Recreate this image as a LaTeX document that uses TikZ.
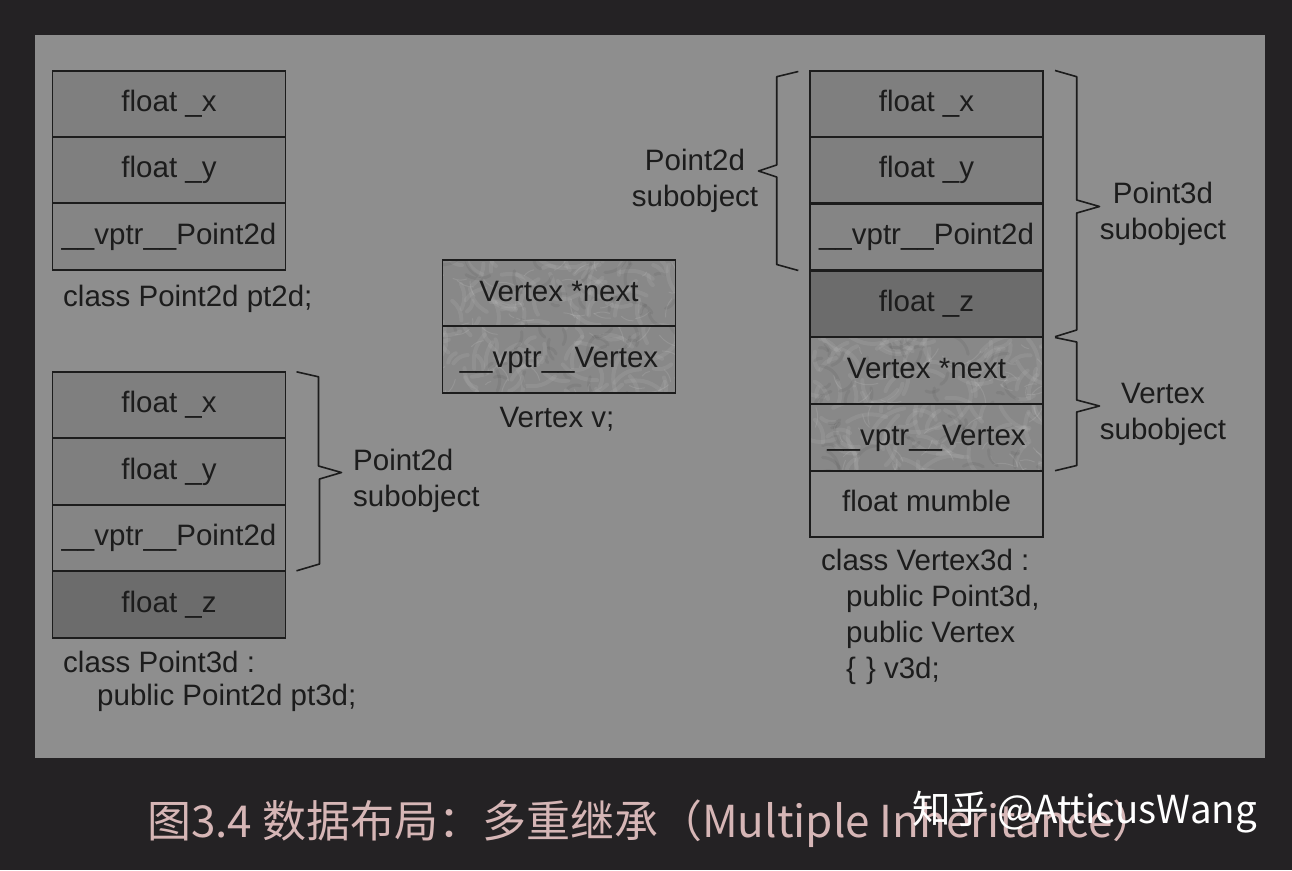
\documentclass[tikz,border=0pt]{standalone}
\usepackage{fontspec}
\setmainfont{Liberation Sans}
\newfontfamily\cjk{Noto Sans CJK SC}
\usetikzlibrary{calc}
\definecolor{bgdark}{RGB}{36,34,36}
\definecolor{panel}{RGB}{142,142,142}
\definecolor{cellA}{RGB}{127,127,127}
\definecolor{cellB}{RGB}{133,133,133}
\definecolor{cellZ}{RGB}{108,108,108}
\definecolor{cellM}{RGB}{141,141,141}
\definecolor{marble}{RGB}{136,136,136}
\definecolor{ink}{RGB}{28,28,28}
\definecolor{capink}{RGB}{214,182,182}
\begin{document}
\begin{tikzpicture}[x=1pt,y=-1pt,
  txt/.style={font=\fontsize{29.5}{35}\selectfont, text=ink, inner sep=0pt},
  cell/.style={txt, draw=ink, line width=1.8pt, minimum width=233pt, minimum height=66.5pt, text height=21pt, text depth=6pt},
  marblecell/.style={cell, fill=marble, path picture={
    \foreach \mk in {1,...,60}{
      \pgfmathsetmacro{\mkx}{rnd*240}
      \pgfmathsetmacro{\mky}{rnd*70}
      \pgfmathsetmacro{\mka}{rnd*360}
      \pgfmathsetmacro{\mkl}{10+rnd*30}
      \draw[white, opacity=0.07, line width=4pt, line cap=round]
        ([shift={(\mkx,\mky)}]path picture bounding box.north west) to[bend left=25] ++(\mka:\mkl);
    }
    \foreach \mk in {1,...,30}{
      \pgfmathsetmacro{\mkx}{rnd*240}
      \pgfmathsetmacro{\mky}{rnd*70}
      \pgfmathsetmacro{\mka}{rnd*360}
      \pgfmathsetmacro{\mkl}{6+rnd*18}
      \draw[white, opacity=0.1, line width=1pt, line cap=round]
        ([shift={(\mkx,\mky)}]path picture bounding box.north west) to[bend right=20] ++(\mka:\mkl);
    }
    \foreach \mk in {1,...,25}{
      \pgfmathsetmacro{\mkx}{rnd*240}
      \pgfmathsetmacro{\mky}{rnd*70}
      \pgfmathsetmacro{\mka}{rnd*360}
      \pgfmathsetmacro{\mkl}{6+rnd*18}
      \draw[black, opacity=0.06, line width=3pt, line cap=round]
        ([shift={(\mkx,\mky)}]path picture bounding box.north west) to[bend right=30] ++(\mka:\mkl);
    }}},
  bracepath/.style={draw=ink, line width=1.6pt, line join=round}
]
\pgfmathsetseed{11}
% background and panel
\fill[bgdark] (0,0) rectangle (1292,870);
\fill[panel] (35,35) rectangle (1265,758);
\useasboundingbox (0,0) rectangle (1292,870);

% ---- Point2d pt2d (top left)
\node[cell, fill=cellA] (a1) at (169,104) {float \_x};
\node[cell, fill=cellA] (a2) at (169,170) {float \_y};
\node[cell, fill=cellB] (a3) at (169,236.5) {\_\_vptr\_\_Point2d};
\node[txt, anchor=base west] (alab) at (63,306) {class Point2d pt2d;};

% ---- Point3d pt3d (bottom left)
\node[cell, fill=cellA] (b1) at (169,405) {float \_x};
\node[cell, fill=cellA] (b2) at (169,471.5) {float \_y};
\node[cell, fill=cellB] (b3) at (169,538) {\_\_vptr\_\_Point2d};
\node[cell, fill=cellZ] (b4) at (169,604.5) {float \_z};
\node[txt, anchor=base west] (blab1) at (63,672) {class Point3d :};
\node[txt, anchor=base west] (blab2) at (97,705) {public Point2d pt3d;};
\draw[bracepath] (296.5,371.8) -- (318.5,376.8) -- (318.5,466) -- (341.5,472.5) -- (319.5,479) -- (319.5,564) -- (296.5,570.8);
\node[txt, anchor=base west] (bsub1) at (353,470) {Point2d};
\node[txt, anchor=base west] (bsub2) at (353,506) {subobject};

% ---- Vertex v (middle)
\node[marblecell] (c1) at (559,293.5) {Vertex *next};
\node[marblecell] (c2) at (559,359.5) {\_\_vptr\_\_Vertex};
\node[txt, anchor=base] (clab) at (557,427) {Vertex v;};

% ---- Vertex3d v3d (right)
\node[cell, fill=cellA] (d1) at (926.5,104) {float \_x};
\node[cell, fill=cellA] (d2) at (926.5,170) {float \_y};
\node[cell, fill=cellB] (d3) at (926.5,237) {\_\_vptr\_\_Point2d};
\node[cell, fill=cellZ] (d4) at (926.5,304) {float \_z};
\node[marblecell] (d5) at (926.5,370.5) {Vertex *next};
\node[marblecell] (d6) at (926.5,437.5) {\_\_vptr\_\_Vertex};
\node[cell, fill=cellM] (d7) at (926.5,504) {float mumble};

\draw[bracepath] (798.3,71.5) -- (776.7,76.7) -- (776.7,165) -- (758.5,171) -- (776.7,177) -- (776.7,264.5) -- (798.3,270.5);
\node[txt, anchor=base] (dsub1) at (695,170) {Point2d};
\node[txt, anchor=base] (dsub2) at (695,206) {subobject};

\draw[bracepath] (1055,70.5) -- (1076.7,76.7) -- (1076.7,200) -- (1099.5,206.5) -- (1076.7,213) -- (1076.7,330) -- (1055,336.7);
\node[txt, anchor=base] (esub1) at (1163,203) {Point3d};
\node[txt, anchor=base] (esub2) at (1163,239) {subobject};

\draw[bracepath] (1055,337.5) -- (1076.7,342) -- (1076.7,400) -- (1099.5,406) -- (1076.7,412) -- (1076.7,465.5) -- (1055,470.7);
\node[txt, anchor=base] (fsub1) at (1163,403) {Vertex};
\node[txt, anchor=base] (fsub2) at (1163,439) {subobject};

\node[txt, anchor=base west] (dlab1) at (821,570) {class Vertex3d :};
\node[txt, anchor=base west] (dlab2) at (846,606.5) {public Point3d,};
\node[txt, anchor=base west] (dlab3) at (846,642.5) {public Vertex};
\node[txt, anchor=base west] (dlab4) at (846,678) {\{\hspace{10pt}\} v3d;};

% ---- caption and watermark
\node[anchor=base west, inner sep=0pt, text=capink, font=\cjk\fontsize{44}{50}\selectfont] (cap) at (147,837) {图3.4 数据布局：多重继承（Multiple Inheritance）};
\node[anchor=base west, inner sep=0pt, text=white, font=\cjk\fontsize{38.5}{44}\selectfont] (wm) at (912,823) {知乎 @AtticusWang};
\end{tikzpicture}
\end{document}
